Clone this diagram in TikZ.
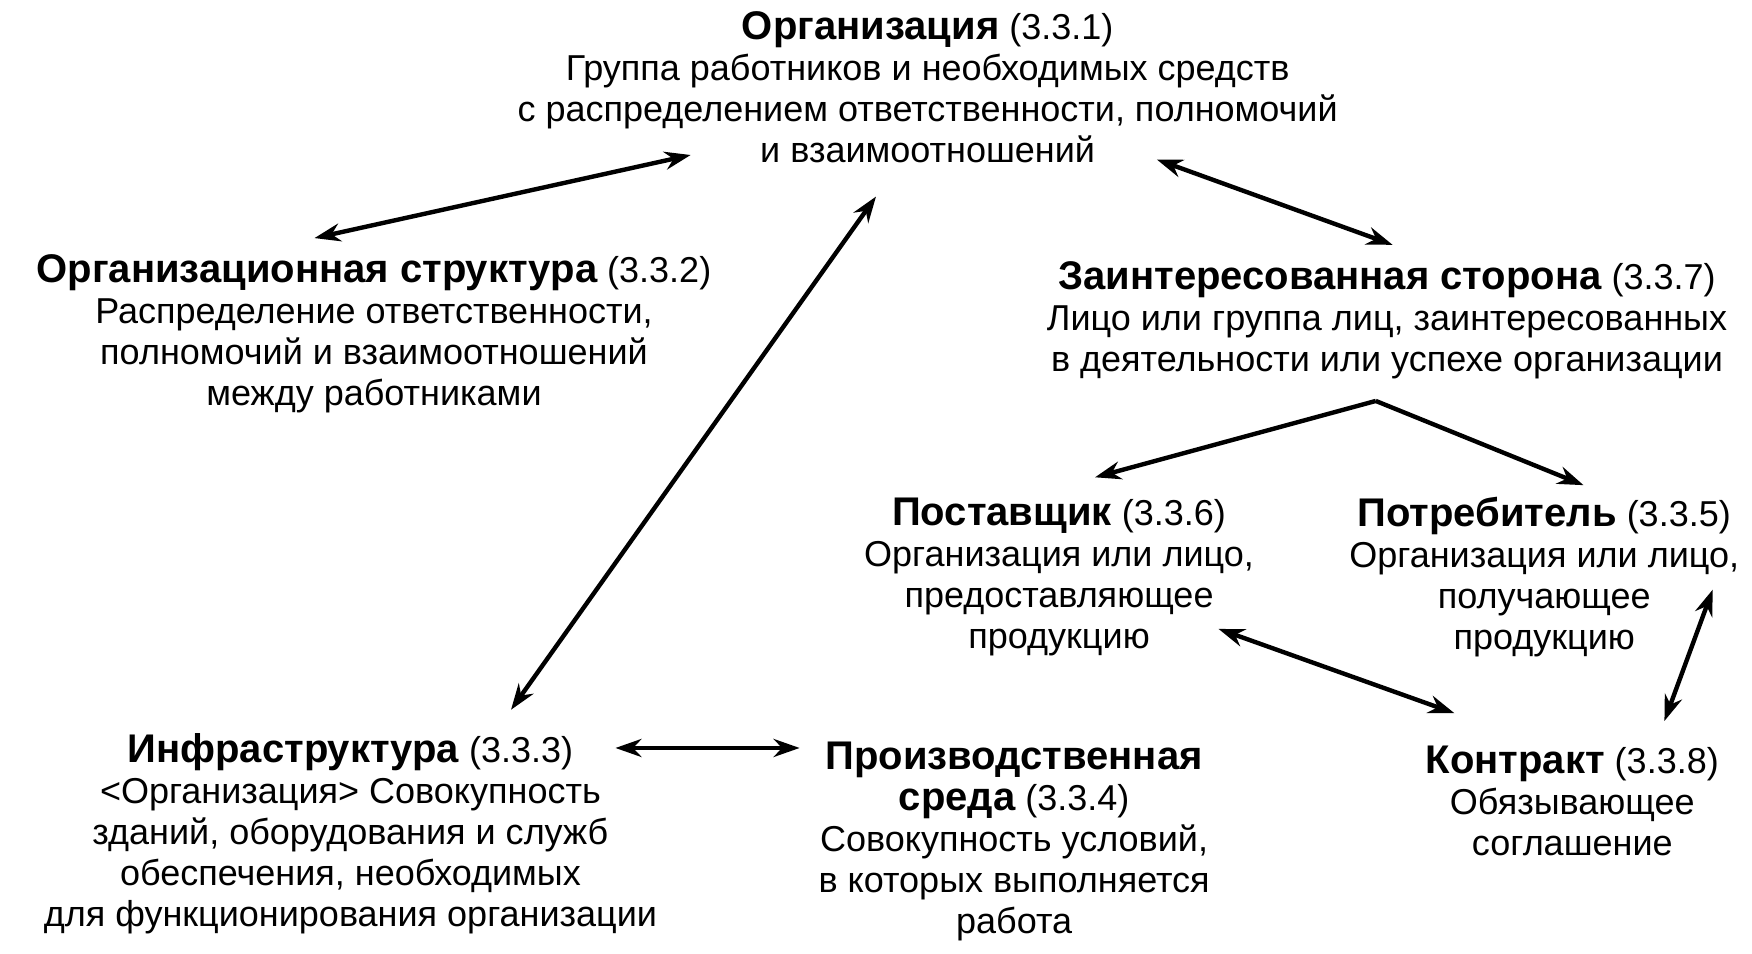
\documentclass[tikz,border=0pt]{standalone}
\usepackage{fontspec}
\setmainfont{Liberation Sans}
\usetikzlibrary{arrows.meta}
\begin{document}
\begin{tikzpicture}[x=0.5615pt,y=-0.5615pt,
  txt/.style={align=center,font=\fontsize{18}{20.5}\selectfont,inner sep=0pt},
  ttl/.style={font=\fontsize{20}{24}\selectfont\bfseries},
  link/.style={line width=2.2pt,{Stealth[length=13pt,width=9pt]}-{Stealth[length=13pt,width=9pt]}},
  one/.style={line width=2.2pt,-{Stealth[length=13pt,width=9pt]}}]
\useasboundingbox (0,0) rectangle (1560,849);
\node[txt] (org) at (826,78) {{\bfseries\fontsize{20}{24}\selectfont Организация} (3.3.1)\\Группа работников и необходимых средств\\с распределением ответственности, полномочий\\и взаимоотношений};
\node[txt] (str) at (333,297) {{\bfseries\fontsize{20}{24}\selectfont Организационная структура} (3.3.2)\\Распределение ответственности,\\полномочий и взаимоотношений\\между работниками};
\node[txt] (stk) at (1235,285) {{\bfseries\fontsize{20}{24}\selectfont Заинтересованная сторона} (3.3.7)\\Лицо или группа лиц, заинтересованных\\в деятельности или успехе организации};
\node[txt] (sup) at (943,514) {{\bfseries\fontsize{20}{24}\selectfont Поставщик} (3.3.6)\\Организация или лицо,\\предоставляющее\\продукцию};
\node[txt] (con) at (1375,514) {{\bfseries\fontsize{20}{24}\selectfont Потребитель} (3.3.5)\\Организация или лицо,\\получающее\\продукцию};
\node[txt] (inf) at (312,742) {{\bfseries\fontsize{20}{24}\selectfont Инфраструктура} (3.3.3)\\<Организация> Совокупность\\зданий, оборудования и служб\\обеспечения, необходимых\\для функционирования организации};
\node[txt] (prd) at (903,749) {{\bfseries\fontsize{20}{24}\selectfont Производственная}\\{\bfseries\fontsize{20}{24}\selectfont среда} (3.3.4)\\Совокупность условий,\\в которых выполняется\\работа};
\node[txt] (ctr) at (1400,713) {{\bfseries\fontsize{20}{24}\selectfont Контракт} (3.3.8)\\Обязывающее\\соглашение};
\coordinate (a1) at (280,212); \coordinate (a2) at (615,138);
\coordinate (b1) at (455,632); \coordinate (b2) at (780,175);
\coordinate (c1) at (1030,142); \coordinate (c2) at (1240,218);
\coordinate (f0) at (1225,357); \coordinate (f1) at (975,425); \coordinate (f2) at (1410,432);
\coordinate (d1) at (548,666); \coordinate (d2) at (712,666);
\coordinate (e1) at (1085,560); \coordinate (e2) at (1295,635);
\coordinate (g1) at (1482,642); \coordinate (g2) at (1525,525);
\draw[link] (a1) -- (a2);
\draw[link] (b1) -- (b2);
\draw[link] (c1) -- (c2);
\draw[one] (f0) -- (f1);
\draw[one] (f0) -- (f2);
\draw[link] (d1) -- (d2);
\draw[link] (e1) -- (e2);
\draw[link] (g1) -- (g2);
\end{tikzpicture}
\end{document}
